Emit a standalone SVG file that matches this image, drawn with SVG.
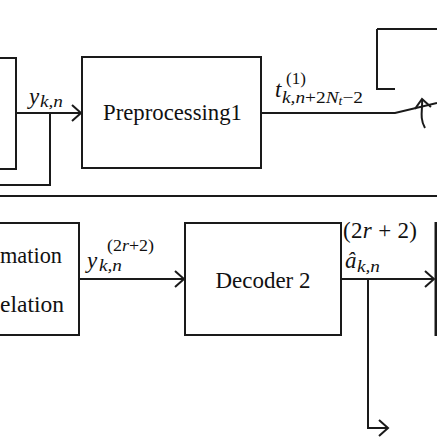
<svg xmlns="http://www.w3.org/2000/svg" width="437" height="437" viewBox="0 0 437 437">
<style>
.ln{fill:none;stroke:#1a1a1a;stroke-width:2}
.box{fill:#fff;stroke:#1a1a1a;stroke-width:2}
.t{font-family:"Liberation Serif","Times New Roman",serif;fill:#111;font-size:23px}
.m{font-family:"Liberation Serif","Times New Roman",serif;fill:#111;font-style:italic}
.up{font-style:normal}
</style>
<defs>
<marker id="arr" markerUnits="userSpaceOnUse" markerWidth="12" markerHeight="18" viewBox="0 0 12 18" refX="10" refY="9" orient="auto">
<path d="M1,1 L10,9 L1,17" fill="none" stroke="#1a1a1a" stroke-width="2"/>
</marker>
</defs>
<rect width="437" height="437" fill="#fff"/>
<g id="connectors">
<path class="ln" d="M16,113 H81" marker-end="url(#arr)"/>
<path class="ln" d="M50,113 V185 H0"/>
<path class="ln" d="M261,113 H395 L437,103"/>
<path class="ln" d="M377,29 H437 M377,29 V89 H395"/>
<path class="ln" d="M425,128 C419,118 423,108 422,99" marker-end="url(#arr)"/>
<path class="ln" d="M0,196 H437"/>
<path class="ln" d="M79,279 H184" marker-end="url(#arr)"/>
<path class="ln" d="M341,279 H434" marker-end="url(#arr)"/>
<path class="ln" d="M368,279 V428 H388" marker-end="url(#arr)"/>
</g>
<g id="node-left-top">
<rect class="box" x="-5" y="58" width="21" height="111"/>
</g>
<g id="node-preprocessing1">
<rect class="box" x="82" y="57" width="179" height="111"/>
<text class="t" x="103" y="120" textLength="139" lengthAdjust="spacingAndGlyphs">Preprocessing1</text>
</g>
<g id="node-left-bottom">
<rect class="box" x="-5" y="223" width="84" height="112"/>
<text class="t" x="62" y="263" text-anchor="end" textLength="62" lengthAdjust="spacingAndGlyphs">mation</text>
<text class="t" x="64" y="312" text-anchor="end" textLength="64" lengthAdjust="spacingAndGlyphs">elation</text>
</g>
<g id="node-decoder2">
<rect class="box" x="185" y="223" width="156" height="112"/>
<text class="t" x="263" y="288" text-anchor="middle" textLength="95" lengthAdjust="spacingAndGlyphs">Decoder 2</text>
</g>
<g id="node-right-bottom">
<path d="M436,222 V336" stroke="#1a1a1a" stroke-width="3"/>
</g>
<g id="labels">
<text class="m" x="29" y="104" font-size="23">y</text>
<text class="m" x="40" y="107" font-size="17" textLength="23" lengthAdjust="spacingAndGlyphs">k,n</text>
<text class="m" x="275" y="97" font-size="23">t</text>
<text class="m" x="286" y="84" font-size="17"><tspan class="up">(1)</tspan></text>
<text class="m" x="282" y="103" font-size="17" textLength="81" lengthAdjust="spacingAndGlyphs">k,n<tspan class="up">+2</tspan>N<tspan font-size="12" dy="2">t</tspan><tspan class="up" dy="-2">−2</tspan></text>
<text class="m" x="87" y="268" font-size="23">y</text>
<text class="m" x="99" y="271" font-size="17" textLength="23" lengthAdjust="spacingAndGlyphs">k,n</text>
<text class="m" x="107" y="251" font-size="17" textLength="47" lengthAdjust="spacingAndGlyphs"><tspan class="up">(2</tspan>r<tspan class="up">+2)</tspan></text>
<text class="m" x="343" y="238" font-size="23" textLength="74"><tspan class="up">(2</tspan>r<tspan class="up"> + 2)</tspan></text>
<text class="m" x="345" y="268" font-size="23">â</text>
<text class="m" x="357" y="272" font-size="17" textLength="23" lengthAdjust="spacingAndGlyphs">k,n</text>
</g>
</svg>
